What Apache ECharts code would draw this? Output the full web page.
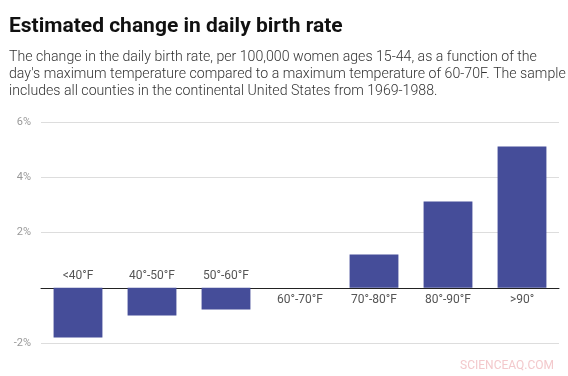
<!DOCTYPE html>
<html>
<head>
<meta charset="utf-8">
<script src="https://cdn.jsdelivr.net/npm/echarts@6/dist/echarts.min.js"></script>
<style>
  html, body { margin: 0; padding: 0; background: #fff; }
  #chart { width: 568px; height: 376px; }
</style>
</head>
<body>
<div id="chart"></div>
<script>
var categories = ['<40°F', '40°-50°F', '50°-60°F', '60°-70°F', '70°-80°F', '80°-90°F', '>90°']
var values = [-1.8, -1.0, -0.79, 0, 1.2, 3.12, 5.11]
var yTicks = [-2, 0, 2, 4, 6]

var chart = echarts.init(document.getElementById('chart'))

chart.setOption({
  backgroundColor: '#fff',
  textStyle: { fontFamily: 'Roboto' },
  title: {
    text: 'Estimated change in daily birth rate',
    subtext: 'The change in the daily birth rate, per 100,000 women ages 15-44, as a function of the\nday\'s maximum temperature compared to a maximum temperature of 60-70F. The sample\nincludes all counties in the continental United States from 1969-1988.',
    left: 4,
    top: 11,
    itemGap: 12,
    textStyle: { fontSize: 21, fontWeight: 'bold', color: '#111', fontFamily: 'Roboto' },
    subtextStyle: { fontSize: 14.15, fontWeight: 300, color: '#333', lineHeight: 17, fontFamily: 'Roboto' }
  },
  grid: { left: 41, right: 9, top: 122, bottom: 33 },
  xAxis: {
    type: 'category',
    data: categories,
    axisLine: { onZero: true, lineStyle: { color: '#222', width: 1 } },
    axisTick: { show: false },
    axisLabel: { show: false }
  },
  yAxis: {
    type: 'value',
    min: yTicks[0],
    max: yTicks[yTicks.length - 1],
    interval: 2,
    axisLine: { show: false },
    axisTick: { show: false },
    axisLabel: {
      color: '#999',
      fontSize: 11,
      margin: 10,
      formatter: function (v) { return v === 0 ? '' : v + '%' }
    },
    splitLine: { lineStyle: { color: '#ddd' } }
  },
  series: [{
    type: 'bar',
    barWidth: '66%',
    itemStyle: { color: '#454d99' },
    data: values.map(function (v) {
      return {
        value: v,
        label: { position: v < 0 ? 'top' : 'bottom' }
      }
    }),
    label: {
      show: true,
      distance: 6,
      color: '#555',
      fontSize: 12,
      formatter: '{b}'
    }
  }],
  graphic: [{
    type: 'text',
    right: 14,
    bottom: 4,
    style: { text: 'SCIENCEAQ.COM', fill: '#f3c9cc', font: '12px Roboto' }
  }]
})
</script>
</body>
</html>
